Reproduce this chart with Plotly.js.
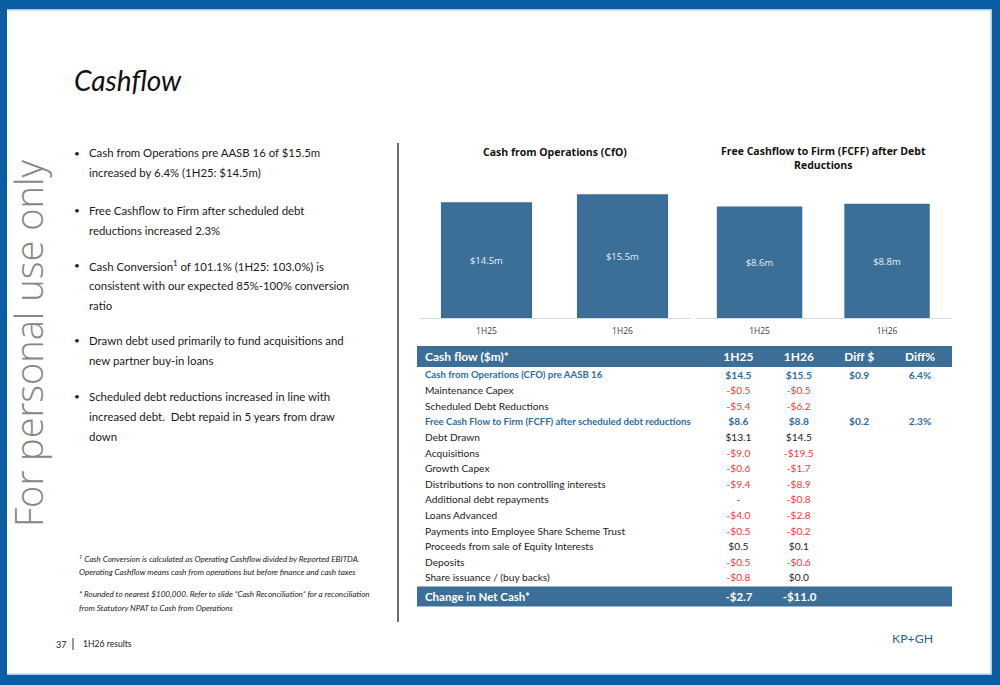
<!DOCTYPE html>
<html>
<head>
<meta charset="utf-8">
<script src="https://cdn.plot.ly/plotly-3.0.1.min.js"></script>
<style>
  html, body { margin: 0; padding: 0; background: #ffffff; }
  #chart { width: 1000px; height: 685px; }
</style>
</head>
<body>
<div id="chart"></div>
<script>
// ---------------- DATA ----------------
const categories = ['1H25', '1H26'];
const cfoValues = [14.5, 15.5];
const fcffValues = [8.6, 8.8];

const tableHeader = ['Cash flow ($m)*', '1H25', '1H26', 'Diff $', 'Diff%'];
const rowLabels = [
  'Cash from Operations (CFO) pre AASB 16',
  'Maintenance Capex',
  'Scheduled Debt Reductions',
  'Free Cash Flow to Firm (FCFF) after scheduled debt reductions',
  'Debt Drawn',
  'Acquisitions',
  'Growth Capex',
  'Distributions to non controlling interests',
  'Additional debt repayments',
  'Loans Advanced',
  'Payments into Employee Share Scheme Trust',
  'Proceeds from sale of Equity Interests',
  'Deposits',
  'Share issuance / (buy backs)'
];
const values1H25 = [14.5, -0.5, -5.4, 8.6, 13.1, -9.0, -0.6, -9.4, null, -4.0, -0.5, 0.5, -0.5, -0.8];
const values1H26 = [15.5, -0.5, -6.2, 8.8, 14.5, -19.5, -1.7, -8.9, -0.8, -2.8, -0.2, 0.1, -0.6, 0.0];
const diffDollar = [0.9, null, null, 0.2, null, null, null, null, null, null, null, null, null, null];
const diffPercent = [6.4, null, null, 2.3, null, null, null, null, null, null, null, null, null, null];
const highlightRows = [0, 3];
const netCashLabel = 'Change in Net Cash*';
const netCash = [-2.7, -11.0];

const bulletLines = [
  ['•', 'Cash from Operations pre AASB 16 of $15.5m'],
  ['', 'increased by 6.4% (1H25: $14.5m)'],
  ['•', 'Free Cashflow to Firm after scheduled debt'],
  ['', 'reductions increased 2.3%'],
  ['•', 'Cash Conversion<sup>1</sup> of 101.1% (1H25: 103.0%) is'],
  ['', 'consistent with our expected 85%-100% conversion'],
  ['', 'ratio'],
  ['•', 'Drawn debt used primarily to fund acquisitions and'],
  ['', 'new partner buy-in loans'],
  ['•', 'Scheduled debt reductions increased in line with'],
  ['', 'increased debt.  Debt repaid in 5 years from draw'],
  ['', 'down']
];
const bulletY = [153, 173, 210, 230, 265, 285, 305, 340, 360, 396, 416, 436];

const footnotes = [
  '<sup>1</sup> Cash Conversion is calculated as Operating Cashflow divided by Reported EBITDA.',
  'Operating Cashflow means cash from operations but before finance and cash taxes',
  '* Rounded to nearest $100,000. Refer to slide “Cash Reconciliation” for a reconciliation',
  'from Statutory NPAT to Cash from Operations'
];
const footnoteY = [558, 572, 594, 608];

// ---------------- HELPERS ----------------
const W = 1000, H = 685;
const X = px => px / W;
const Y = py => 1 - py / H;

const BODY = "Lato, 'Open Sans', sans-serif";
const CHARTFONT = "'Open Sans', Roboto, sans-serif";
const BLUE_FRAME = '#0A5EA3';
const BAR = '#3B6F98';
const TXT_BLUE = '#2E6CA4';
const TXT_RED = '#F03A3A';
const TXT_BLACK = '#1c1c1c';
const CLEAR = 'rgba(0,0,0,0)';

function money(v) {
  if (v === null || v === undefined) return '-';
  return (v < 0 ? '-$' : '$') + Math.abs(v).toFixed(1);
}
const isHi = i => highlightRows.includes(i);
function cellColor(i, v) {
  if (isHi(i)) return TXT_BLUE;
  if (v === null) return '#444444';
  return v < 0 ? TXT_RED : TXT_BLACK;
}

// ---------------- TRACES ----------------
const barCommon = {
  type: 'bar',
  width: 0.67,
  marker: { color: BAR, line: { width: 0 } },
  texttemplate: '$%{y:.1f}m',
  textposition: 'inside',
  insidetextanchor: 'middle',
  textangle: 0,
  textfont: { family: CHARTFONT, size: 9.5, color: '#e8eef4' },
  hoverinfo: 'skip'
};
const traceCfo = Object.assign({}, barCommon, { x: categories, y: cfoValues, xaxis: 'x', yaxis: 'y' });
const traceFcff = Object.assign({}, barCommon, { x: categories, y: fcffValues, xaxis: 'x2', yaxis: 'y2' });

const col0 = rowLabels.slice();
const col1 = values1H25.map(v => money(v));
const col2 = values1H26.map(v => money(v));
const col3 = diffDollar.map(v => v === null ? '' : money(v));
const col4 = diffPercent.map(v => v === null ? '' : v.toFixed(1) + '%');

const colors0 = rowLabels.map((s, i) => isHi(i) ? TXT_BLUE : TXT_BLACK);
const colors1 = values1H25.map((v, i) => cellColor(i, v));
const colors2 = values1H26.map((v, i) => cellColor(i, v));
const colors3 = diffDollar.map((v, i) => cellColor(i, v));
const colors4 = diffPercent.map((v, i) => cellColor(i, v));
const weightCol = rowLabels.map((s, i) => isHi(i) ? 700 : 400);
const sizeLabel = rowLabels.map((s, i) => isHi(i) ? 9.6 : 10.2);
const sizeVal = rowLabels.map(() => 10.2);

const colWidths = [292, 60, 61, 60, 62];
const TABLE_X = [X(417), X(952)];

const traceTable = {
  type: 'table',
  domain: { x: TABLE_X, y: [Y(586), Y(344.2)] },
  columnwidth: colWidths,
  header: {
    values: tableHeader,
    align: ['left', 'center', 'center', 'center', 'center'],
    height: 18.8,
    fill: { color: CLEAR },
    line: { color: CLEAR, width: 0 },
    font: { family: BODY, size: 12, color: '#ffffff', weight: 700 }
  },
  cells: {
    values: [col0, col1, col2, col3, col4],
    align: ['left', 'center', 'center', 'center', 'center'],
    height: 15.6,
    fill: { color: CLEAR },
    line: { color: CLEAR, width: 0 },
    font: {
      family: BODY,
      size: [sizeLabel, sizeVal, sizeVal, sizeVal, sizeVal],
      color: [colors0, colors1, colors2, colors3, colors4],
      weight: [weightCol, weightCol, weightCol, weightCol, weightCol]
    }
  }
};

const traceFooter = {
  type: 'table',
  domain: { x: [X(417), X(830)], y: [Y(606), Y(584.5)] },
  columnwidth: [292, 60, 61],
  header: {
    values: [netCashLabel, money(netCash[0]), money(netCash[1])],
    align: ['left', 'center', 'center'],
    height: 20,
    fill: { color: CLEAR },
    line: { color: CLEAR, width: 0 },
    font: { family: BODY, size: 11.5, color: '#ffffff', weight: 700 }
  },
  cells: { values: [[], [], []], height: 1, fill: { color: CLEAR }, line: { color: CLEAR, width: 0 } }
};

// ---------------- ANNOTATIONS ----------------
const annotations = [];

annotations.push({
  xref: 'paper', yref: 'paper', x: X(72), y: Y(80), xanchor: 'left', yanchor: 'middle',
  text: 'Cashflow', showarrow: false,
  font: { family: BODY, size: 28, color: '#111111', style: 'italic' }
});

annotations.push({
  xref: 'paper', yref: 'paper', x: X(28), y: Y(343), xanchor: 'center', yanchor: 'middle',
  text: 'For personal use only', textangle: -90, showarrow: false,
  font: { family: "'Open Sans', sans-serif", size: 38, color: '#868686', weight: 300 }
});

bulletLines.forEach((ln, i) => {
  if (ln[0]) {
    annotations.push({
      xref: 'paper', yref: 'paper', x: X(72), y: Y(bulletY[i]), xanchor: 'left', yanchor: 'middle',
      text: ln[0], showarrow: false, font: { family: BODY, size: 10, color: '#222222' }
    });
  }
  annotations.push({
    xref: 'paper', yref: 'paper', x: X(87), y: Y(bulletY[i]), xanchor: 'left', yanchor: 'middle',
    text: ln[1], showarrow: false, font: { family: BODY, size: 11.4, color: '#1a1a1a' }
  });
});

footnotes.forEach((t, i) => {
  annotations.push({
    xref: 'paper', yref: 'paper', x: X(77), y: Y(footnoteY[i]), xanchor: 'left', yanchor: 'middle',
    text: t, showarrow: false, font: { family: BODY, size: 8.1, color: '#222222', style: 'italic' }
  });
});

annotations.push({
  xref: 'paper', yref: 'paper', x: X(54), y: Y(644), xanchor: 'left', yanchor: 'middle',
  text: '37', showarrow: false, font: { family: BODY, size: 9, color: '#222222' }
});
annotations.push({
  xref: 'paper', yref: 'paper', x: X(81), y: Y(644), xanchor: 'left', yanchor: 'middle',
  text: '1H26 results', showarrow: false, font: { family: BODY, size: 8.6, color: '#222222' }
});
annotations.push({
  xref: 'paper', yref: 'paper', x: X(912), y: Y(638), xanchor: 'center', yanchor: 'middle',
  text: 'KP+GH', showarrow: false, font: { family: BODY, size: 12.3, color: '#1C62A6' }
});

annotations.push({
  xref: 'paper', yref: 'paper', x: X(555), y: Y(152), xanchor: 'center', yanchor: 'middle',
  text: '<b>Cash from Operations (CfO)</b>', showarrow: false,
  font: { family: CHARTFONT, size: 10.5, color: '#111111' }
});
annotations.push({
  xref: 'paper', yref: 'paper', x: X(823), y: Y(158), xanchor: 'center', yanchor: 'middle',
  text: '<b>Free Cashflow to Firm (FCFF) after Debt<br>Reductions</b>', showarrow: false, align: 'center',
  font: { family: CHARTFONT, size: 10.5, color: '#111111' }
});

// ---------------- SHAPES (slide frame, table bands, divider) ----------------
const rectPx = (x0, y0, x1, y1, color, layer) => ({
  type: 'rect', xref: 'paper', yref: 'paper', x0: X(x0), x1: X(x1), y0: Y(y1), y1: Y(y0),
  fillcolor: color, line: { width: 0 }, layer: layer || 'above'
});
const shapes = [
  rectPx(417, 346, 952, 367, BAR, 'below'),
  rectPx(417, 586.5, 952, 606.5, BAR, 'below'),
  rectPx(0, 9, 1000, 10.5, '#A9CBEA'),
  rectPx(990.5, 0, 992, 685, '#A9CBEA'),
  rectPx(0, 673.5, 1000, 675, '#A9CBEA'),
  rectPx(0, 0, 1000, 9, BLUE_FRAME),
  rectPx(0, 0, 7, 685, BLUE_FRAME),
  rectPx(992, 0, 1000, 685, BLUE_FRAME),
  rectPx(0, 675, 1000, 685, BLUE_FRAME),
  { type: 'line', xref: 'paper', yref: 'paper', x0: X(398), x1: X(398), y0: Y(143), y1: Y(622),
    line: { color: '#3a3a3a', width: 1.5 } },
  { type: 'line', xref: 'paper', yref: 'paper', x0: X(73), x1: X(73), y0: Y(638), y1: Y(650),
    line: { color: '#333333', width: 1 } }
];

// ---------------- LAYOUT ----------------
const axisX = {
  type: 'category', showline: true, linecolor: '#d9d9d9', linewidth: 1,
  showgrid: false, zeroline: false, ticks: '', fixedrange: true, ticklabelstandoff: 5,
  tickfont: { family: CHARTFONT, size: 8.5, color: '#404040' }
};
const axisY = { visible: false, showgrid: false, zeroline: false, fixedrange: true };

const layout = {
  width: W, height: H,
  margin: { l: 0, r: 0, t: 0, b: 0, pad: 0 },
  paper_bgcolor: '#ffffff', plot_bgcolor: 'rgba(0,0,0,0)',
  showlegend: false,
  xaxis: Object.assign({}, axisX, { domain: [X(418.5), X(690.5)], anchor: 'y' }),
  yaxis: Object.assign({}, axisY, { domain: [Y(318.2), Y(190.2)], range: [0, 16], anchor: 'x' }),
  xaxis2: Object.assign({}, axisX, { domain: [X(695.8), X(950.8)], anchor: 'y2' }),
  yaxis2: Object.assign({}, axisY, { domain: [Y(318.2), Y(188.2)], range: [0, 10], anchor: 'x2' }),
  annotations: annotations,
  shapes: shapes
};

Plotly.newPlot('chart', [traceCfo, traceFcff, traceTable, traceFooter], layout,
  { staticPlot: true, displayModeBar: false, responsive: false });
</script>
</body>
</html>
